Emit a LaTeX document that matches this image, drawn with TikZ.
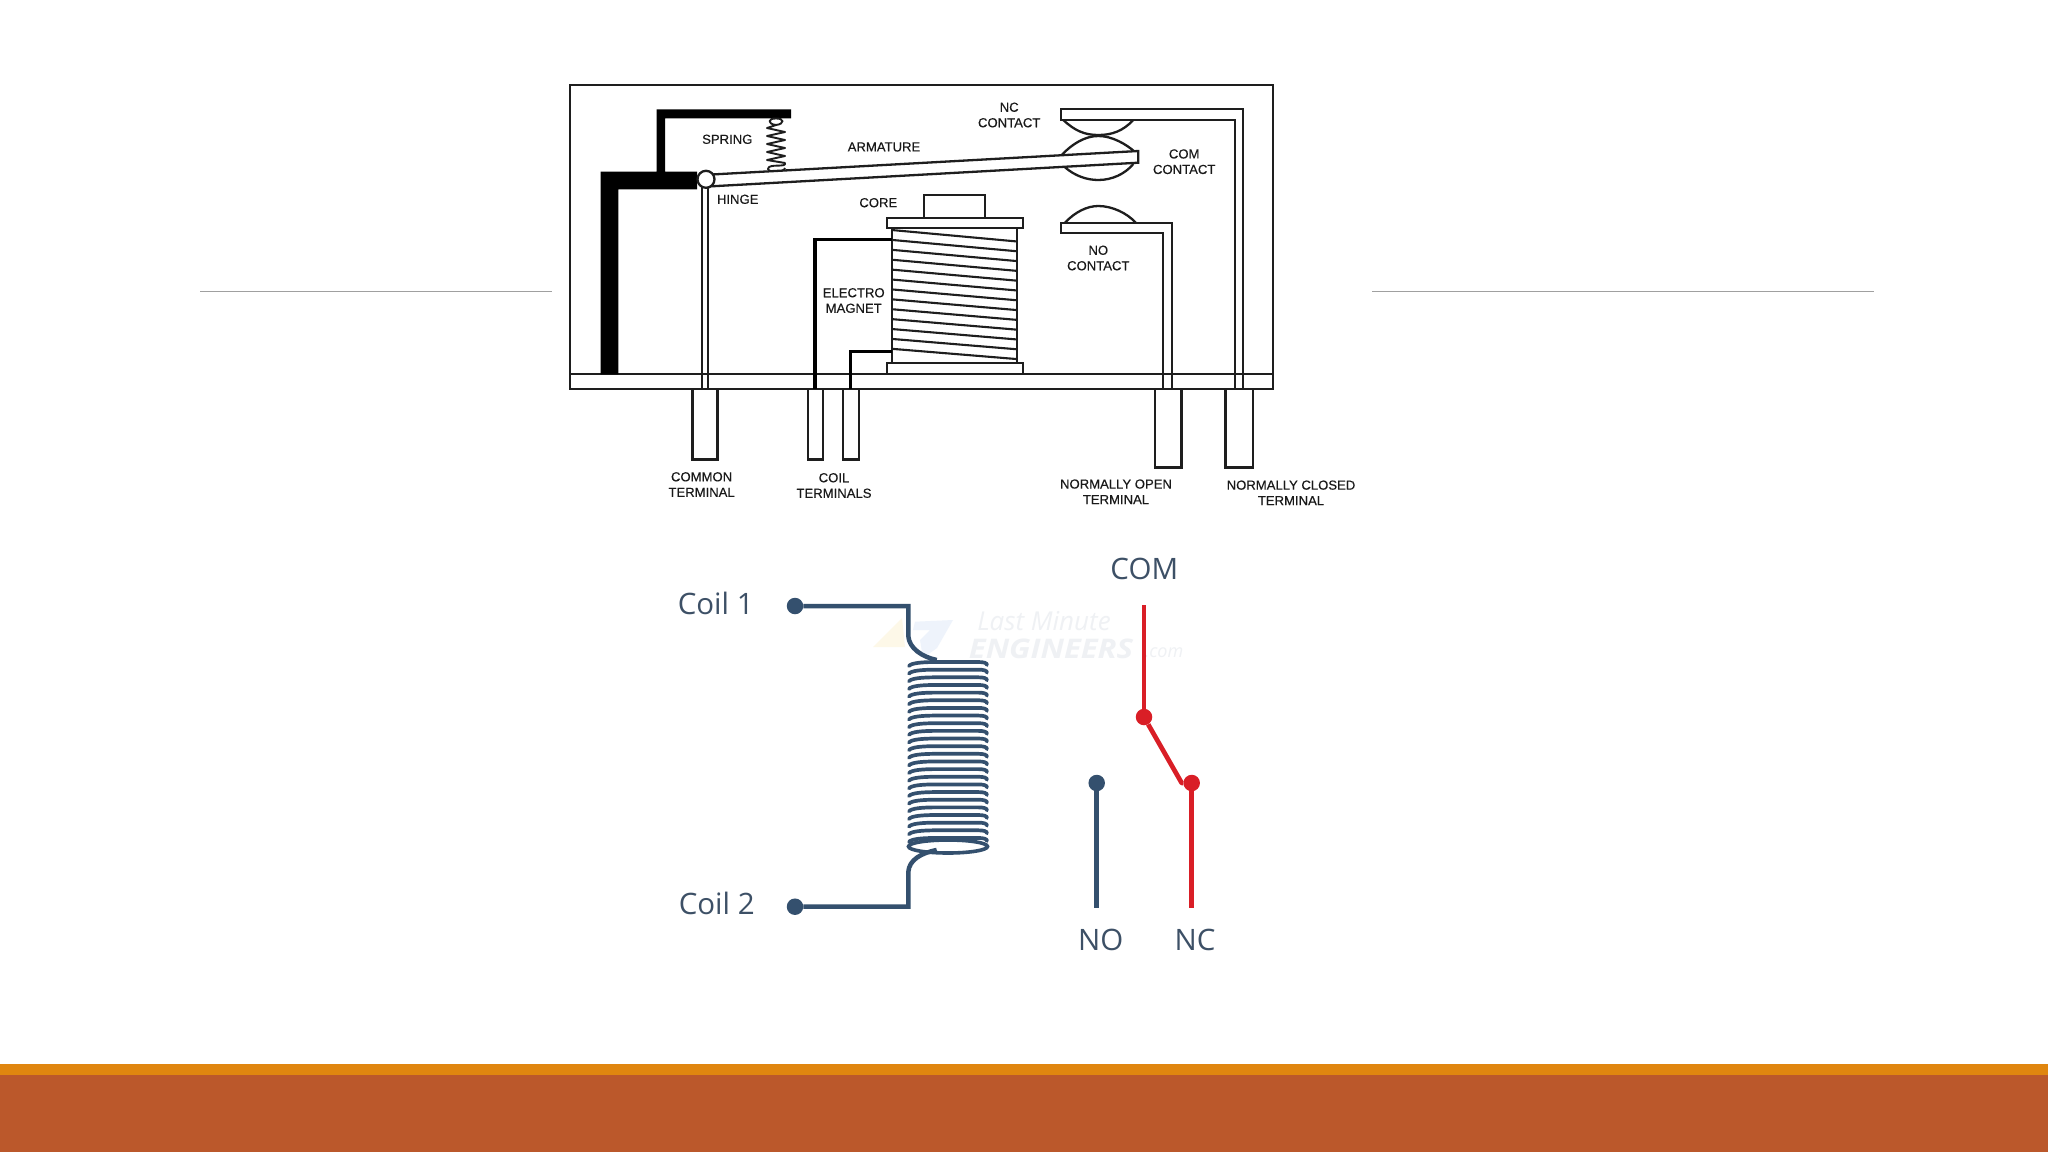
\documentclass[tikz,border=0pt]{standalone}
\usepackage{fontspec}
\setmainfont{Liberation Sans}
\newfontfamily\lblfont[FakeBold=0.35]{Liberation Sans}
\newfontfamily\opensans{Open Sans}
\definecolor{rust}{HTML}{BB582B}
\definecolor{amberbar}{HTML}{E0860F}
\definecolor{rulegray}{HTML}{A0A0A0}
\definecolor{inkline}{HTML}{1E1E1E}
\definecolor{navy}{HTML}{34506E}
\definecolor{navytext}{HTML}{3D5066}
\definecolor{relred}{HTML}{D91E26}
\definecolor{wmgray}{HTML}{EFF1F4}
\definecolor{wmyellow}{HTML}{FDF8E8}
\definecolor{wmblue}{HTML}{EEF3FB}
\tikzset{
  part/.style={draw=inkline,line width=2.3pt,line join=miter},
  thinpart/.style={draw=inkline,line width=1.9pt},
  wire/.style={draw=black,line width=3.4pt},
  winding/.style={draw=inkline,line width=2.1pt},
  lbl/.style={font=\lblfont\fontsize{13.1}{13.1}\selectfont,text=black!90,inner sep=0pt,align=center},
  schem/.style={font=\opensans\fontsize{29.5}{29.5}\selectfont,text=navytext,inner sep=0pt},
  navyline/.style={draw=navy,line width=4.5pt,line join=miter},
  redline/.style={draw=relred,line width=4.7pt,line join=round},
  navydot/.style={circle,fill=navy,inner sep=0pt,minimum size=16.5pt},
  reddot/.style={circle,fill=relred,inner sep=0pt,minimum size=16.5pt},
  turn/.style={draw=navy,line width=3.7pt,line cap=round}
}
\begin{document}
\begin{tikzpicture}[x=1pt,y=-1pt]
\useasboundingbox (0,0) rectangle (2048,1152);
\fill[white] (0,0) rectangle (2048,1152);
% footer
\fill[rust] (0,1074) rectangle (2048,1152);
\fill[amberbar] (0,1063.5) rectangle (2048,1075);
% side rules
\draw[rulegray,line width=1.2pt] (200,291.5) -- (552,291.5);
\draw[rulegray,line width=1.2pt] (1372,291.5) -- (1874,291.5);
% terminals
\foreach \a/\b/\c in {692.4/717.6/459.5,807.7/823.2/459.5,843.1/859.1/459.5,1154.8/1181.4/467.5,1225.6/1253.2/467.5}
  \draw[part] (\a,389) -- (\a,\c) -- (\b,\c) -- (\b,389);
% case
\draw[part] (570,85) rectangle (1273,389);
\draw[part] (570,374) -- (1273,374);
% black frame
\fill[black] (600.7,374.3) -- (600.7,171.7) -- (656.7,171.7) -- (656.7,109.3) -- (791,109.3) -- (791,118.3) -- (665,118.3) -- (665,171.7) -- (697,171.7) -- (697,189.3) -- (618.3,189.3) -- (618.3,374.3) -- cycle;
% common strip
\draw[part] (701.7,186) -- (701.7,389);
\draw[part] (708.3,186) -- (708.3,389);
% spring
\draw[thinpart,line join=round] (776,118.5) .. controls (768,118) and (767,124) .. (776,125)
  -- (767,128) -- (785,132) -- (767,136) -- (785,140) -- (767,144) -- (785,148) -- (767,152) -- (785,156) -- (767,160) -- (785,163)
  .. controls (787,168) and (768,163) .. (768,169) .. controls (769,173) and (784,173) .. (785,168);
\draw[thinpart] (776,118.5) .. controls (784,118) and (785,124) .. (776,125);
% contacts
\draw[part] (1063.3,120) .. controls (1075,131) and (1085,135) .. (1098.3,135) .. controls (1112,135) and (1123,131) .. (1133.3,120);
\draw[part] (1061.7,155) .. controls (1072,144) and (1085,136) .. (1098.3,136) .. controls (1112,136) and (1126,144) .. (1135,152);
\draw[part] (1065,167.3) .. controls (1075,176) and (1087,180) .. (1098.3,180) .. controls (1112,180) and (1125,174) .. (1133.3,164);
\draw[part] (1065,222.7) .. controls (1075,212) and (1087,206) .. (1098.3,206) .. controls (1112,206) and (1127,213) .. (1135.7,222.7);
% contact arms
\draw[part] (1235.3,389) -- (1235.3,120) -- (1060.7,120) -- (1060.7,109.3) -- (1243.3,109.3) -- (1243.3,389);
\draw[part] (1163.3,389) -- (1163.3,232.7) -- (1060.7,232.7) -- (1060.7,222.7) -- (1172,222.7) -- (1172,389);
% armature
\draw[part,fill=white] (708,174.7) -- (1138.3,151) -- (1138.3,162.7) -- (708,186.5);
% hinge
\node[circle,draw=inkline,line width=2.3pt,fill=white,minimum size=17pt,inner sep=0pt] (hinge) at (706,179.3) {};
% core and bobbin
\draw[part] (924,216.7) -- (924,195) -- (985,195) -- (985,216.7);
\draw[part] (886.7,217.7) rectangle (1023.3,228.3);
\draw[part] (886.7,362.7) rectangle (1023.3,374);
\draw[part] (891.7,228.3) -- (891.7,362.7);
\draw[part] (1017.3,228.3) -- (1017.3,362.7);
\foreach \i in {0,...,12}
  \draw[winding] (891.7,{230+9.9*\i}) -- (1017.3,{241.5+9.8*\i});
% coil wires
\draw[wire] (815,389) -- (815,239.3) -- (891.7,239.3);
\draw[wire] (850.7,389) -- (850.7,351.7) -- (891.7,351.7);
% relay labels
\node[lbl] at (727.3,139.3) {SPRING};
\node[lbl] at (884,147) {ARMATURE};
\node[lbl] at (737.7,199.3) {HINGE};
\node[lbl] at (878.3,202.7) {CORE};
\node[lbl] at (853.7,300.5) {ELECTRO\\[2.4pt]MAGNET};
\node[lbl] at (1009.2,115) {NC\\[2.4pt]CONTACT};
\node[lbl] at (1184.2,161.7) {COM\\[2.4pt]CONTACT};
\node[lbl] at (1098.3,258) {NO\\[2.4pt]CONTACT};
\node[lbl] at (701.6,484.5) {COMMON\\[2.4pt]TERMINAL};
\node[lbl] at (834,485.5) {COIL\\[2.4pt]TERMINALS};
\node[lbl] at (1116,491.7) {NORMALLY OPEN\\[2.4pt]TERMINAL};
\node[lbl] at (1291,492.8) {NORMALLY CLOSED\\[2.4pt]TERMINAL};
% watermark
\fill[wmyellow] (873,647) -- (902,618) -- (905,647) -- cycle;
\fill[wmblue] (915,621.7) -- (953,620) -- (937,648) -- (923,658) -- (920,640) -- (930,630) -- (913,630) -- cycle;
\node[inner sep=0pt,text=wmgray,font=\opensans\itshape\fontsize{26}{26}\selectfont] at (1044,621) {Last Minute};
\node[inner sep=0pt,text=wmgray,font=\opensans\bfseries\itshape\fontsize{27}{27}\selectfont,xscale=1.15] at (1051,649) {ENGINEERS};
\node[inner sep=0pt,text=wmgray,font=\opensans\itshape\fontsize{18}{18}\selectfont] at (1164,653) {.com};
% schematic coil
\foreach \i in {0,...,23} {
  \pgfmathsetmacro{\yy}{662+7.65*\i}
  \draw[turn] (909,\yy+4) .. controls (911,\yy+1) and (922,\yy) .. (936,\yy) -- (978,\yy) .. controls (984,\yy) and (987,\yy+1) .. (987,\yy+3);
}
\node[navydot] (coilA) at (795,606) {};
\node[navydot] (coilB) at (795,906.7) {};
\coordinate (coilTop) at (936.7,660);
\coordinate (coilBot) at (936.7,850);
\draw[navyline] (coilA) -- (908.3,606) -- (908.3,636) .. controls (909,648) and (922,657) .. (coilTop);
\draw[navyline,line width=3.6pt] (948,846.5) ellipse [x radius=39.5pt,y radius=6.5pt];
\draw[navyline] (coilB) -- (908.3,906.7) -- (908.3,872) .. controls (909,860) and (921,853) .. (coilBot);
\node[schem] at (715.7,603) {Coil 1};
\node[schem] at (716.7,903) {Coil 2};
% schematic switch
\node[reddot] (pivot) at (1144,717) {};
\node[reddot] (ncpt) at (1191.7,783) {};
\node[navydot] (nopt) at (1096.7,783) {};
\coordinate (comend) at (1144,605);
\coordinate (ncend) at (1191.7,907.7);
\coordinate (noend) at (1096.7,907.7);
\draw[redline] (comend) -- (pivot);
\draw[redline] (pivot) -- (1181.7,783) -- (ncpt);
\draw[redline] (ncpt) -- (ncend);
\draw[navyline] (nopt) -- (noend);
\node[schem] at (1144.3,569) {COM};
\node[schem] at (1100.7,940) {NO};
\node[schem] at (1195,940) {NC};
\end{tikzpicture}
\end{document}
